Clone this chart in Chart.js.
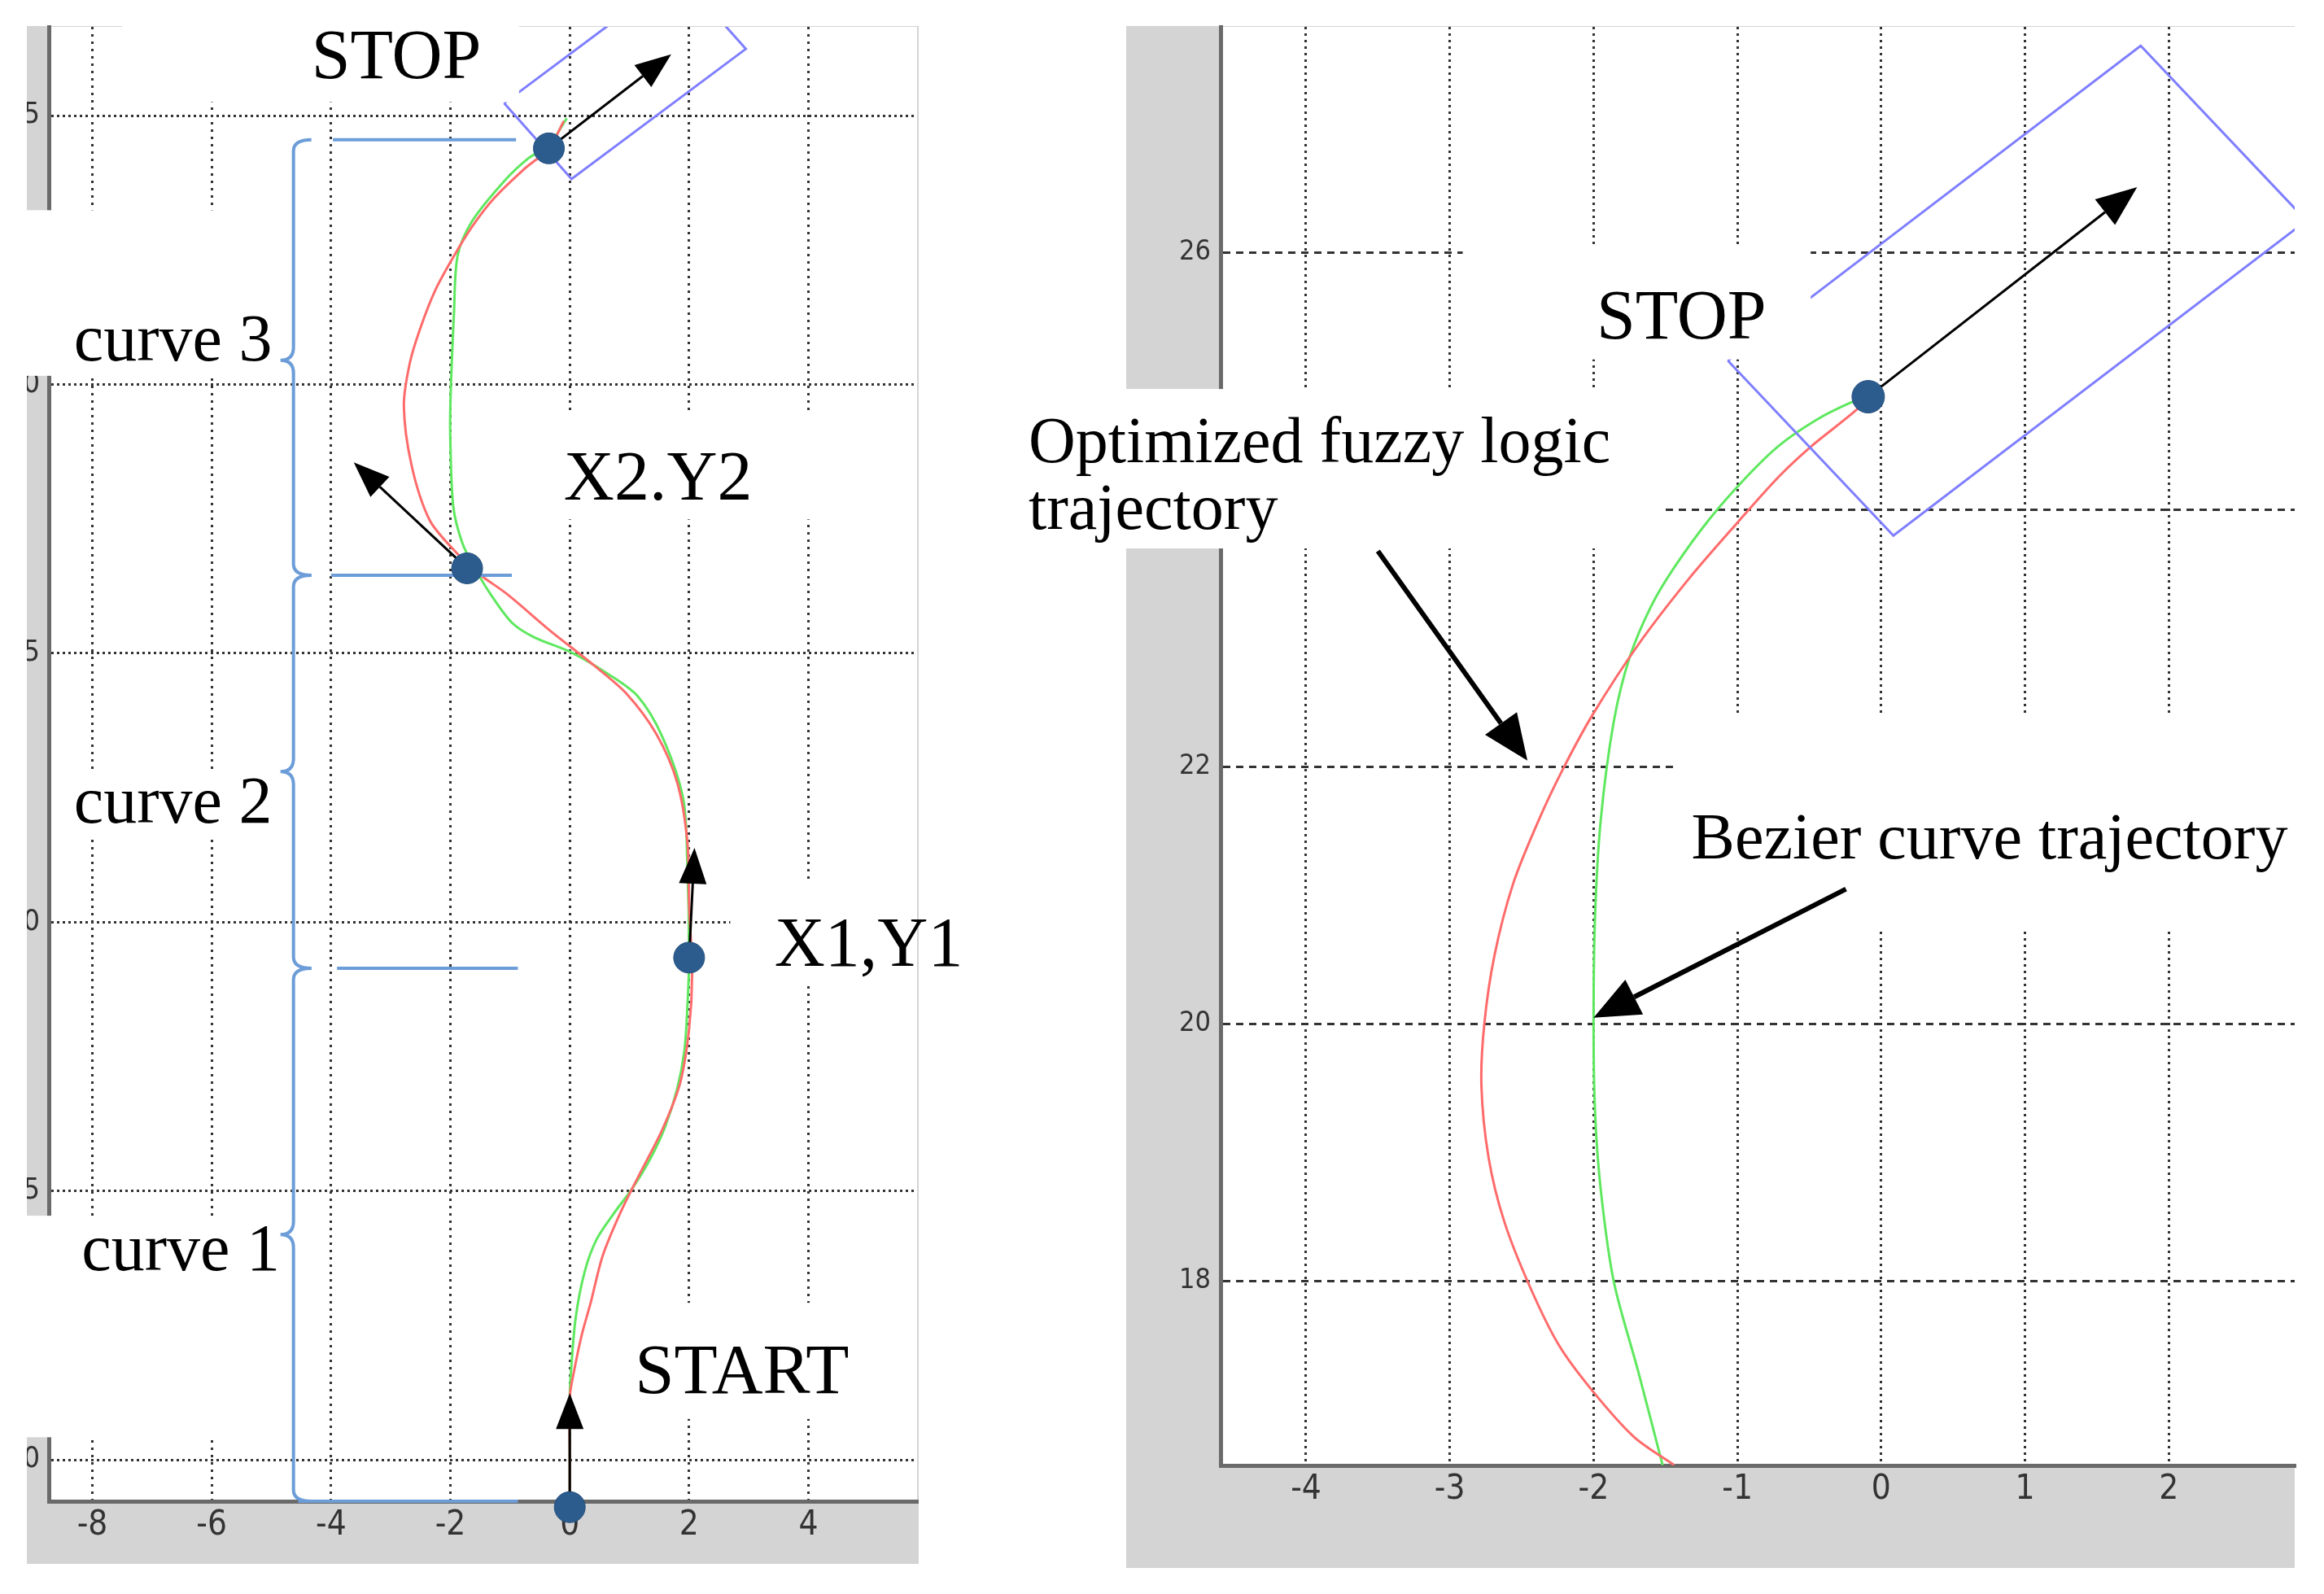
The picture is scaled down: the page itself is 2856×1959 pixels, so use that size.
<!DOCTYPE html>
<html>
<head>
<meta charset="utf-8">
<script src="https://cdn.jsdelivr.net/npm/chart.js@4.4.1/dist/chart.umd.min.js"></script>
<style>
  html, body { margin: 0; padding: 0; background: #fff; }
  body { width: 2856px; height: 1959px; position: relative; overflow: hidden; }
  #left { position: absolute; left: 33px; top: 0; }
  #right { position: absolute; left: 1140px; top: 0; }
</style>
</head>
<body>
<canvas id="left" width="1200" height="1959"></canvas>
<canvas id="right" width="1716" height="1959"></canvas>
<script>
// ---------- left panel: whole manoeuvre (curve 1, 2, 3) ----------
const leftFuzzy = [
  [0, -0.88], [0, 0], [0, 1.17], [0.07, 1.64], [0.2, 2.32], [0.35, 2.92], [0.55, 3.79],
  [0.85, 4.6], [1.15, 5.27], [1.55, 6.14], [1.85, 7.01], [2.0, 8.02], [2.05, 9.03],
  [2.0, 10.3], [1.97, 11.5], [1.8, 12.6], [1.45, 13.5], [0.95, 14.25], [0.4, 14.78],
  [-0.35, 15.44], [-1.05, 16.1], [-1.55, 16.5], [-1.95, 16.93], [-2.35, 17.48],
  [-2.65, 18.49], [-2.78, 19.6], [-2.68, 20.4], [-2.5, 21.06], [-2.25, 21.76],
  [-1.94, 22.39], [-1.64, 22.93], [-1.27, 23.46], [-0.78, 23.99], [-0.35, 24.39], [-0.1, 24.9]
];
const leftBezier = [
  [0, -0.88], [0, 1.17], [0.02, 1.64], [0.1, 2.65], [0.25, 3.5], [0.45, 4.1], [0.75, 4.6],
  [1.05, 5.05], [1.35, 5.6], [1.6, 6.2], [1.8, 6.9], [1.92, 7.6], [1.97, 8.4],
  [2.0, 9.34], [1.97, 11.09], [1.9, 12.3], [1.55, 13.45], [1.14, 14.2], [0.65, 14.61],
  [0.02, 15.02], [-0.6, 15.3], [-0.97, 15.57], [-1.34, 16.12], [-1.6, 16.6],
  [-1.8, 17.05], [-1.95, 17.71], [-2.0, 18.88], [-2.0, 19.66], [-1.94, 21.33],
  [-1.88, 22.39], [-1.64, 23.03], [-1.1, 23.78], [-0.7, 24.2], [-0.35, 24.45], [-0.05, 24.95]
];
const leftWaypoints = [[0, -0.88], [2.0, 9.34], [-1.72, 16.58], [-0.35, 24.39]];
const leftVehicle = [[-1.1, 25.23], [0.03, 23.82], [2.95, 26.24], [1.82, 27.65], [-1.1, 25.23]];
// heading vectors [x0, y0, x1, y1]
const leftHeadings = [[0, -0.88, 0, 1.24], [2.0, 9.34, 2.09, 11.38], [-1.72, 16.58, -3.62, 18.55], [-0.35, 24.39, 1.7, 26.14]];
// curve segments: [yStart, yMiddle, yEnd] on the brace line
const braceSegments = [[-0.77, 4.19, 9.14], [9.14, 12.8, 16.45], [16.45, 20.45, 24.55]];
const braceLevels = [[-0.77, -4.55, -0.87], [9.14, -3.9, -0.87], [16.45, -4.0, -0.97], [24.55, -3.97, -0.9]];
const leftLabels = [
  ['STOP', -4.33, 25.69, 86], ['curve 3', -8.31, 20.45, 82], ['X2.Y2', -0.1, 17.86, 86],
  ['curve 2', -8.31, 11.85, 82], ['X1,Y1', 3.43, 9.18, 86], ['curve 1', -8.18, 3.53, 82],
  ['START', 1.09, 1.24, 87]
];

// ---------- right panel: zoom on curve 3 ----------
const rightFuzzy = [
  [-1.44, 16.57], [-1.72, 16.79], [-2.01, 17.15], [-2.24, 17.5], [-2.44, 17.95], [-2.62, 18.46],
  [-2.73, 18.96], [-2.78, 19.52], [-2.76, 20.0], [-2.69, 20.53], [-2.56, 21.09], [-2.38, 21.59],
  [-2.21, 21.99], [-2.01, 22.4], [-1.69, 22.95], [-1.34, 23.46], [-1.0, 23.9], [-0.71, 24.26],
  [-0.48, 24.5], [-0.18, 24.77], [-0.09, 24.88]
];
const rightBezier = [
  [-1.52, 16.57], [-1.69, 17.3], [-1.86, 18.0], [-1.95, 18.71], [-1.99, 19.32], [-2.0, 20.0],
  [-1.99, 20.83], [-1.95, 21.59], [-1.86, 22.35], [-1.75, 22.85], [-1.6, 23.25], [-1.44, 23.55],
  [-1.2, 23.92], [-0.95, 24.24], [-0.71, 24.5], [-0.45, 24.7], [-0.22, 24.83], [-0.09, 24.88]
];
const rightWaypoints = [[-0.09, 24.88]];
const rightVehicle = [[-1.066, 25.16], [0.085, 23.8], [2.957, 26.25], [1.805, 27.61], [-1.066, 25.16]];
const rightHeadings = [[-0.09, 24.88, 1.78, 26.51]];
const rightPointers = [[-3.5, 23.68, -2.46, 22.05], [-0.245, 21.05, -2.0, 20.05]];
const rightLabels = [
  ['STOP', -1.98, 25.33, 86], ['Optimized fuzzy logic', -5.93, 24.37, 80],
  ['trajectory', -5.93, 23.85, 80], ['Bezier curve trajectory', -1.32, 21.29, 80]
];

const tickFont = '"Liberation Sans Narrow", "Arial Narrow", "DejaVu Sans Condensed", "Liberation Sans", sans-serif';
const serif = '"Liberation Serif", "Times New Roman", serif';

const pts = arr => arr.map(([x, y]) => ({ x, y }));
const toPx = (chart, x, y) => [chart.scales.x.getPixelForValue(x), chart.scales.y.getPixelForValue(y)];

function drawArrow(ctx, x0, y0, x1, y1, lw, headLen, headHalf) {
  const ang = Math.atan2(y1 - y0, x1 - x0);
  const bx = x1 - headLen * Math.cos(ang), by = y1 - headLen * Math.sin(ang);
  ctx.strokeStyle = '#000';
  ctx.fillStyle = '#000';
  ctx.lineWidth = lw;
  ctx.beginPath();
  ctx.moveTo(x0, y0);
  ctx.lineTo(bx, by);
  ctx.stroke();
  ctx.beginPath();
  ctx.moveTo(x1, y1);
  ctx.lineTo(bx + headHalf * Math.sin(ang), by - headHalf * Math.cos(ang));
  ctx.lineTo(bx - headHalf * Math.sin(ang), by + headHalf * Math.cos(ang));
  ctx.closePath();
  ctx.fill();
}

function drawBrace(ctx, x, yTop, yMid, yBot) {
  const c = 14, d = 16;
  ctx.beginPath();
  ctx.moveTo(x + 22, yTop);
  ctx.quadraticCurveTo(x, yTop, x, yTop + c);
  ctx.lineTo(x, yMid - d);
  ctx.quadraticCurveTo(x, yMid, x - d, yMid);
  ctx.quadraticCurveTo(x, yMid, x, yMid + d);
  ctx.lineTo(x, yBot - c);
  ctx.quadraticCurveTo(x, yBot, x + 22, yBot);
  ctx.stroke();
}

// gray figure background + annotations pasted on top of the plot
const decorPlugin = {
  id: 'decor',
  beforeDraw(chart, args, o) {
    const { ctx, chartArea: a } = chart;
    ctx.save();
    ctx.fillStyle = '#d4d4d4';
    ctx.fillRect(o.gray[0], o.gray[1], o.gray[2], o.gray[3]);
    ctx.fillStyle = '#ffffff';
    ctx.fillRect(a.left, a.top, a.right - a.left, a.bottom - a.top);
    ctx.restore();
  },
  afterDatasetDraw(chart, args, o) {
    if (chart.data.datasets[args.index].label !== 'Vehicle outline') return;
    const ctx = chart.ctx;
    ctx.save();
    // white label boxes
    ctx.fillStyle = '#ffffff';
    o.masks.forEach(([x0, y0, x1, y1]) => {
      const [a, b] = toPx(chart, x0, y0), [c, d] = toPx(chart, x1, y1);
      ctx.fillRect(a, b, c - a, d - b);
    });
    // braces marking the curve segments
    if (o.braceX !== undefined) {
      ctx.strokeStyle = '#6c9dd8';
      ctx.lineWidth = 4;
      const bx = chart.scales.x.getPixelForValue(o.braceX);
      braceSegments.forEach(([y0, ym, y1]) => {
        const s = chart.scales.y;
        drawBrace(ctx, bx, s.getPixelForValue(y1), s.getPixelForValue(ym), s.getPixelForValue(y0));
      });
      braceLevels.forEach(([y, xa, xb]) => {
        const [a, b] = toPx(chart, xa, y), [c] = toPx(chart, xb, y);
        ctx.beginPath();
        ctx.moveTo(a, b);
        ctx.lineTo(c, b);
        ctx.stroke();
      });
    }
    // text labels
    ctx.fillStyle = '#000';
    ctx.textAlign = 'left';
    ctx.textBaseline = 'alphabetic';
    o.labels.forEach(([t, x, y, size]) => {
      ctx.font = size + 'px ' + serif;
      const [px, py] = toPx(chart, x, y);
      ctx.fillText(t, px, py);
    });
    // heading vectors
    o.headings.forEach(([x0, y0, x1, y1]) => {
      const [a, b] = toPx(chart, x0, y0), [c, d] = toPx(chart, x1, y1);
      drawArrow(ctx, a, b, c, d, 3, o.headLen, o.headHalf);
    });
    (o.pointers || []).forEach(([x0, y0, x1, y1]) => {
      const [a, b] = toPx(chart, x0, y0), [c, d] = toPx(chart, x1, y1);
      drawArrow(ctx, a, b, c, d, 6, 56, 24);
    });
    ctx.restore();
  }
};

function axis(min, max, step, size, dash, fitKey, fitVal, padding) {
  return {
    type: 'linear',
    min, max,
    ticks: { stepSize: step, includeBounds: false, padding, color: '#333',
             font: { family: tickFont, size } },
    grid: { color: '#333', lineWidth: 3, drawTicks: false },
    border: { display: true, color: '#6a6a6a', width: 5, dash },
    afterFit: s => {
      s[fitKey] = fitVal;
      s.paddingLeft = 0; s.paddingRight = 0; s.paddingTop = 0; s.paddingBottom = 0;
    }
  };
}

function datasets(fuzzy, bezier, vehicle, waypoints, r) {
  return [
    { label: 'Waypoints', data: pts(waypoints), order: 0, clip: false, showLine: false,
      pointRadius: r, pointBackgroundColor: '#2c5c8e', pointBorderColor: '#244f7c', pointBorderWidth: 1 },
    { label: 'Vehicle outline', data: pts(vehicle), order: 1, showLine: true, tension: 0,
      borderColor: '#7f7fff', borderWidth: 3, pointRadius: 0 },
    { label: 'Optimized fuzzy logic trajectory', data: pts(fuzzy), order: 2, showLine: true, tension: 0.3,
      borderColor: '#ff6b6b', borderWidth: 3, pointRadius: 0 },
    { label: 'Bezier curve trajectory', data: pts(bezier), order: 3, showLine: true, tension: 0.3,
      borderColor: '#5fe85f', borderWidth: 3, pointRadius: 0 }
  ];
}

const common = {
  responsive: false,
  animation: false,
  devicePixelRatio: 1,
  events: [],
  plugins: { legend: { display: false }, tooltip: { enabled: false } }
};

new Chart(document.getElementById('left'), {
  type: 'scatter',
  data: { datasets: datasets(leftFuzzy, leftBezier, leftVehicle, leftWaypoints, 19) },
  plugins: [decorPlugin],
  options: {
    ...common,
    layout: { padding: { left: 0, right: 106, top: 33, bottom: 37 } },
    scales: {
      x: axis(-8.73, 5.82, 2, 42, [3, 6], 'height', 77, 5),
      y: axis(-0.77, 26.65, 5, 36, [3, 4], 'width', 27, 11)
    },
    plugins: {
      ...common.plugins,
      decor: {
        gray: [0, 32, 1096, 1890],
        masks: [
          [-7.5, 27.2, -0.85, 25.25], [-9.5, 23.24, -4.92, 20.16], [-8.66, 12.79, -5.0, 11.55],
          [-0.55, 19.51, 5.82, 17.49], [2.69, 10.78, 5.82, 8.81], [0.54, 2.92, 5.82, 0.76],
          [-9.5, 4.54, -4.8, 0.42]
        ],
        braceX: -4.63,
        labels: leftLabels,
        headings: leftHeadings, headLen: 44, headHalf: 17
      }
    }
  }
});

new Chart(document.getElementById('right'), {
  type: 'scatter',
  data: { datasets: datasets(rightFuzzy, rightBezier, rightVehicle, rightWaypoints, 20) },
  plugins: [decorPlugin],
  options: {
    ...common,
    layout: { padding: { left: 0, right: 36, top: 33, bottom: 32 } },
    scales: {
      x: axis(-4.594, 2.876, 1, 42, [3, 5], 'height', 126, 5),
      y: axis(16.567, 27.757, 2, 34, [9, 7], 'width', 360, 12)
    },
    plugins: {
      ...common.plugins,
      decor: {
        gray: [244, 32, 1436, 1895],
        masks: [[-2.91, 26.06, -0.49, 25.17], [-5.5, 24.94, -1.5, 23.7], [-1.42, 22.39, 3.5, 20.72]],
        labels: rightLabels,
        headings: rightHeadings, headLen: 50, headHalf: 20,
        pointers: rightPointers
      }
    }
  }
});
</script>
</body>
</html>
